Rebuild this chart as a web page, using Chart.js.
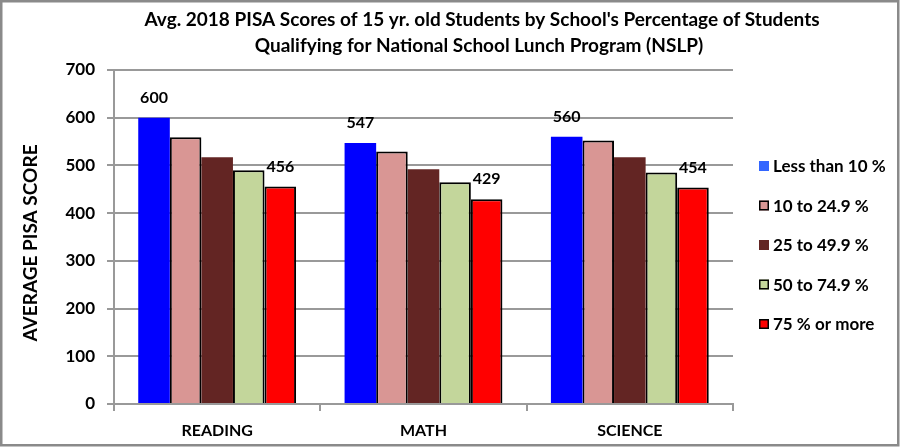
<!DOCTYPE html>
<html><head><meta charset="utf-8">
<script src="https://cdn.jsdelivr.net/npm/chart.js@4.4.0/dist/chart.umd.min.js"></script>
<style>html,body{margin:0;padding:0;background:#fff}canvas{display:block}</style>
</head><body>
<canvas id="c" width="900" height="447"></canvas>
<script>
// ---- data ----
const categories = ['READING', 'MATH', 'SCIENCE'];
const seriesNames = ['Less than 10 %', '10 to 24.9 %', '25 to 49.9 %', '50 to 74.9 %', '75 % or more'];
const lessThan10 = [600, 547, 560];
const from10to24 = [559, 529, 552];
const from25to49 = [517, 492, 517];
const from50to74 = [490, 465, 485];
const over75 = [456, 429, 454];
const yTickValues = [0, 100, 200, 300, 400, 500, 600, 700];
const titleLines = ["Avg. 2018 PISA Scores of 15 yr. old Students by School's Percentage of Students",
                    "Qualifying for National School Lunch Program (NSLP)"];
const yAxisTitle = 'AVERAGE PISA SCORE';
const labeledSeries = [0, 4];

// ---- styles ----
const FONT = 'Lato, "Open Sans", sans-serif';
const fills = ['#0000FF', '#D99694', '#632523', '#C3D69B', '#FF0000'];
const legendFills = ['#3366FF', '#D99694', '#632523', '#C3D69B', '#FF0000'];
const borderW = [0, 2, 0, 2, 2];
const seriesValues = [lessThan10, from10to24, from25to49, from50to74, over75];

const datasets = seriesValues.map((vals, i) => ({
  label: seriesNames[i],
  data: vals,
  backgroundColor: fills[i],
  borderColor: '#000',
  borderWidth: borderW[i],
  borderSkipped: 'bottom',
  categoryPercentage: 0.765,
  barPercentage: 1.0
}));

const decor = {
  id: 'decor',
  beforeDraw(chart) {
    const ctx = chart.ctx;
    ctx.save();
    ctx.fillStyle = '#fff';
    ctx.fillRect(0, 0, chart.width, chart.height);
    ctx.restore();
  },
  afterDraw(chart) {
    const ctx = chart.ctx;
    ctx.save();
    ctx.fillStyle = '#000';
    // title
    ctx.font = 'bold 19px ' + FONT;
    ctx.textAlign = 'center';
    ctx.textBaseline = 'middle';
    ctx.fillText(titleLines[0], 482, 20);
    ctx.fillText(titleLines[1], 479, 46);
    // y axis title
    ctx.save();
    ctx.translate(31, 243);
    ctx.rotate(-Math.PI / 2);
    ctx.font = 'bold 19px ' + FONT;
    ctx.fillText(yAxisTitle, 0, 0);
    ctx.restore();
    // data labels
    ctx.font = 'bold 16px ' + FONT;
    labeledSeries.forEach(di => {
      const meta = chart.getDatasetMeta(di);
      meta.data.forEach((bar, j) => {
        ctx.fillText(String(chart.data.datasets[di].data[j]), bar.x, bar.y - 20);
      });
    });
    // legend
    ctx.textAlign = 'left';
    ctx.font = 'bold 17px ' + FONT;
    chart.data.datasets.forEach((ds, i) => {
      const y = 166 + i * 39.5;
      ctx.fillStyle = legendFills[i];
      ctx.fillRect(759, y - 5, 10, 10);
      if (borderW[i]) {
        ctx.strokeStyle = '#000';
        ctx.lineWidth = 1.5;
        ctx.strokeRect(759.75, y - 4.25, 8.5, 8.5);
      }
      ctx.fillStyle = '#000';
      ctx.fillText(ds.label, 773, y + 1);
    });
    // outer frame
    ctx.strokeStyle = '#8a8a8a';
    ctx.lineWidth = 2.5;
    ctx.strokeRect(1.25, 1.25, 897, 444);
    ctx.restore();
  }
};

new Chart(document.getElementById('c'), {
  type: 'bar',
  data: { labels: categories, datasets },
  plugins: [decor],
  options: {
    responsive: false,
    animation: false,
    layout: { padding: { top: 70, right: 167, bottom: 0, left: 0 } },
    plugins: { legend: { display: false }, title: { display: false }, tooltip: { enabled: false } },
    scales: {
      x: {
        offset: true,
        grid: { display: true, offset: true, drawOnChartArea: false, drawTicks: true, tickLength: 7, color: '#999', lineWidth: 2 },
        border: { display: true, color: '#999', width: 2 },
        ticks: { color: '#000', font: { family: FONT, weight: 'bold', size: 16 }, padding: 10 },
        afterFit(s) { s.height = 43; }
      },
      y: {
        min: 0, max: 700,
        afterBuildTicks(s) { s.ticks = yTickValues.map(v => ({ value: v })); },
        grid: { color: '#999', lineWidth: 2, tickLength: 7 },
        border: { display: true, color: '#999', width: 2 },
        ticks: { color: '#000', font: { family: FONT, weight: 'bold', size: 17 }, padding: 12 },
        afterFit(s) { s.width = 114; }
      }
    }
  }
});
</script>
</body></html>
